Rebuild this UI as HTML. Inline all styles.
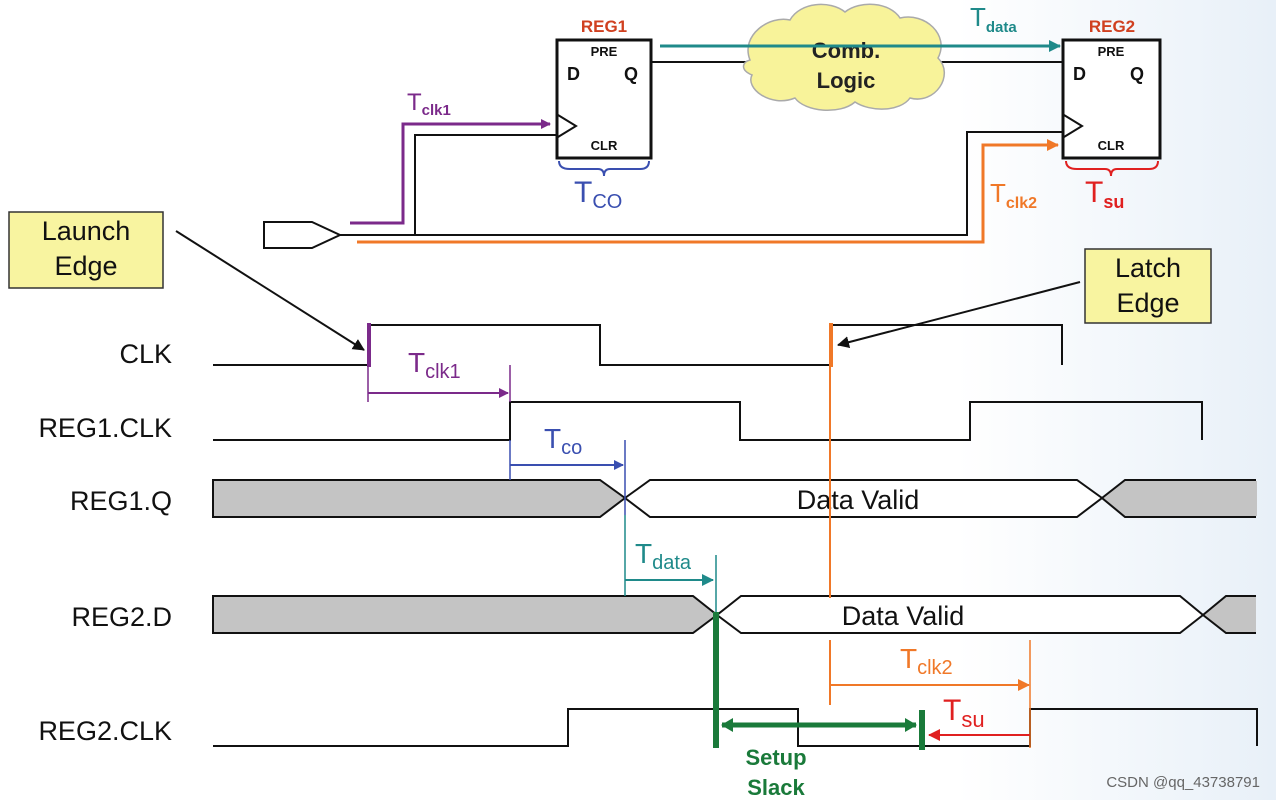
<!DOCTYPE html>
<html><head><meta charset="utf-8"><style>
html,body{margin:0;padding:0;background:#fff;}
svg{display:block;}
text{font-family:"Liberation Sans",Arial,sans-serif;}
</style></head><body>
<svg width="1276" height="800" viewBox="0 0 1276 800" xmlns="http://www.w3.org/2000/svg">
<defs>
<linearGradient id="bg" x1="0" y1="0" x2="1" y2="0">
<stop offset="0.75" stop-color="#ffffff"/><stop offset="1" stop-color="#e8f0f8"/>
</linearGradient>
<marker id="ap" markerWidth="10" markerHeight="10" refX="9" refY="5" orient="auto" markerUnits="userSpaceOnUse"><path d="M0,0 L10,5 L0,10z" fill="#7b2a8a"/></marker>
<marker id="at" markerWidth="12" markerHeight="12" refX="11" refY="6" orient="auto" markerUnits="userSpaceOnUse"><path d="M0,0 L12,6 L0,12z" fill="#1f8a8a"/></marker>
<marker id="ao" markerWidth="12" markerHeight="12" refX="11" refY="6" orient="auto" markerUnits="userSpaceOnUse"><path d="M0,0 L12,6 L0,12z" fill="#f07828"/></marker>
<marker id="ab" markerWidth="10" markerHeight="10" refX="9" refY="5" orient="auto" markerUnits="userSpaceOnUse"><path d="M0,0 L10,5 L0,10z" fill="#3a4fb0"/></marker>
<marker id="ar" markerWidth="12" markerHeight="12" refX="11" refY="6" orient="auto" markerUnits="userSpaceOnUse"><path d="M0,0 L12,6 L0,12z" fill="#e02020"/></marker>
<marker id="ag" markerWidth="12" markerHeight="14" refX="11" refY="7" orient="auto" markerUnits="userSpaceOnUse"><path d="M0,0 L12,7 L0,14z" fill="#1a7a3a"/></marker>
<marker id="agr" markerWidth="12" markerHeight="14" refX="1" refY="7" orient="auto" markerUnits="userSpaceOnUse"><path d="M12,0 L0,7 L12,14z" fill="#1a7a3a"/></marker>
<marker id="ak" markerWidth="12" markerHeight="12" refX="11" refY="6" orient="auto" markerUnits="userSpaceOnUse"><path d="M0,0 L12,6 L0,12z" fill="#111"/></marker>
</defs>
<rect width="1276" height="800" fill="url(#bg)"/>

<!-- circuit -->
<g fill="none" stroke="#111" stroke-width="2">
<path d="M651,62 H765 M930,62 H1063"/>
<path d="M340,235 H967 V132 H1063"/>
<path d="M415,235 V135 H557"/>
</g>
<path d="M750,60 C740,35 770,15 790,20 C800,2 830,0 845,12 C860,0 890,2 900,18 C925,12 950,35 938,58 C955,75 935,105 910,98 C900,112 870,112 855,102 C840,115 805,112 795,98 C770,108 745,88 752,75 C740,70 742,62 750,60Z" fill="#f8f39a" stroke="#aaa" stroke-width="1.5"/>
<text x="846" y="58" font-size="22" font-weight="bold" text-anchor="middle" fill="#222">Comb.</text>
<text x="846" y="88" font-size="22" font-weight="bold" text-anchor="middle" fill="#222">Logic</text>
<path d="M660,46 H1060" stroke="#1f8a8a" stroke-width="3" marker-end="url(#at)" fill="none"/>
<path d="M350,223 H403 V124 H550" stroke="#7b2a8a" stroke-width="3" fill="none" marker-end="url(#ap)"/>
<path d="M357,242 H983 V145 H1058" stroke="#f07828" stroke-width="3" fill="none" marker-end="url(#ao)"/>
<path d="M264,222 H312 L340,235 L312,248 H264Z" fill="#fff" stroke="#111" stroke-width="2"/>

<g stroke="#111" stroke-width="3" fill="#fff">
<rect x="557" y="40" width="94" height="118"/>
<rect x="1063" y="40" width="97" height="118"/>
</g>
<g fill="none" stroke="#111" stroke-width="2">
<path d="M558,115 L576,126 L558,137"/>
<path d="M1064,115 L1082,126 L1064,137"/>
</g>
<g fill="#111">
<text x="604" y="56" font-size="13" font-weight="bold" text-anchor="middle">PRE</text>
<text x="567" y="80" font-size="18" font-weight="bold">D</text>
<text x="624" y="80" font-size="18" font-weight="bold">Q</text>
<text x="604" y="150" font-size="13" font-weight="bold" text-anchor="middle">CLR</text>
<text x="1111" y="56" font-size="13" font-weight="bold" text-anchor="middle">PRE</text>
<text x="1073" y="80" font-size="18" font-weight="bold">D</text>
<text x="1130" y="80" font-size="18" font-weight="bold">Q</text>
<text x="1111" y="150" font-size="13" font-weight="bold" text-anchor="middle">CLR</text>
</g>
<text x="604" y="32" font-size="17" font-weight="bold" fill="#d04020" text-anchor="middle">REG1</text>
<text x="1112" y="32" font-size="17" font-weight="bold" fill="#d04020" text-anchor="middle">REG2</text>
<text x="970" y="26" font-size="26" fill="#1f8a8a">T<tspan font-size="15" font-weight="bold" dy="6">data</tspan></text>
<text x="407" y="110" font-size="24" fill="#7b2a8a">T<tspan font-size="15" font-weight="bold" dy="5">clk1</tspan></text>
<path d="M559,161 Q559,169 570,169 H598 Q604,169 604,176 Q604,169 610,169 H640 Q649,169 649,161" fill="none" stroke="#3a4fb0" stroke-width="2"/>
<text x="574" y="202" font-size="30" fill="#3a4fb0">T<tspan font-size="20" dy="6">CO</tspan></text>
<path d="M1066,161 Q1066,169 1077,169 H1105 Q1111,169 1111,176 Q1111,169 1117,169 H1149 Q1158,169 1158,161" fill="none" stroke="#e02020" stroke-width="2"/>
<text x="1085" y="202" font-size="30" fill="#e02020">T<tspan font-size="18" font-weight="bold" dy="6">su</tspan></text>
<text x="990" y="202" font-size="26" fill="#f07828">T<tspan font-size="16" font-weight="bold" dy="6">clk2</tspan></text>

<!-- callouts -->
<rect x="9" y="212" width="154" height="76" fill="#f8f4a0" stroke="#333" stroke-width="1.5"/>
<text x="86" y="240" font-size="27" text-anchor="middle" fill="#111">Launch</text>
<text x="86" y="275" font-size="27" text-anchor="middle" fill="#111">Edge</text>
<rect x="1085" y="249" width="126" height="74" fill="#f8f4a0" stroke="#333" stroke-width="1.5"/>
<text x="1148" y="277" font-size="27" text-anchor="middle" fill="#111">Latch</text>
<text x="1148" y="312" font-size="27" text-anchor="middle" fill="#111">Edge</text>
<path d="M176,231 L364,350" stroke="#111" stroke-width="2" marker-end="url(#ak)"/>
<path d="M1080,282 L838,345" stroke="#111" stroke-width="2" marker-end="url(#ak)"/>

<!-- signal labels -->
<g font-size="27" fill="#111" text-anchor="end">
<text x="172" y="363">CLK</text>
<text x="172" y="437">REG1.CLK</text>
<text x="172" y="510">REG1.Q</text>
<text x="172" y="626">REG2.D</text>
<text x="172" y="740">REG2.CLK</text>
</g>

<!-- waveforms -->
<g fill="none" stroke="#111" stroke-width="2">
<path d="M213,365 H368 V325 H600 V365 H830 V325 H1062 V365"/>
<path d="M213,440 H510 V402 H740 V440 H970 V402 H1202 V440"/>
<path d="M213,746 H568 V709 H798 V746 H1030 V709 H1257 V746"/>
</g>
<path d="M213,480 H600 L625,498 L600,517 H213Z" fill="#c4c4c4" stroke="#111" stroke-width="2"/>
<path d="M650,480 H1077 L1102,498 L1077,517 H650 L625,498Z" fill="#fff" stroke="#111" stroke-width="2"/>
<path d="M1256,480 H1125 L1102,498 L1125,517 H1256" fill="#c4c4c4" stroke="#111" stroke-width="2"/>
<rect x="1254" y="481" width="3" height="35" fill="#c4c4c4"/>
<text x="858" y="509" font-size="27" text-anchor="middle" fill="#111">Data Valid</text>
<path d="M213,596 H693 L717,615 L693,633 H213Z" fill="#c4c4c4" stroke="#111" stroke-width="2"/>
<path d="M741,596 H1180 L1203,615 L1180,633 H741 L717,615Z" fill="#fff" stroke="#111" stroke-width="2"/>
<path d="M1256,596 H1226 L1203,615 L1226,633 H1256" fill="#c4c4c4" stroke="#111" stroke-width="2"/>
<text x="903" y="625" font-size="27" text-anchor="middle" fill="#111">Data Valid</text>

<!-- edges -->
<path d="M369,323 V367" stroke="#7b2a8a" stroke-width="4"/>
<path d="M831,323 V367" stroke="#f07828" stroke-width="4"/>
<path d="M830,345 V598 M830,640 V705" stroke="#f07828" stroke-width="2"/>

<!-- Tclk1 -->
<path d="M368,365 V402 M510,365 V402" stroke="#7b2a8a" stroke-width="1.5"/>
<path d="M368,393 H508" stroke="#7b2a8a" stroke-width="2" marker-end="url(#ap)"/>
<text x="408" y="372" font-size="28" fill="#7b2a8a">T<tspan font-size="20" dy="6">clk1</tspan></text>
<!-- Tco -->
<path d="M510,440 V480 M625,440 V515" stroke="#3a4fb0" stroke-width="1.5"/>
<path d="M510,465 H623" stroke="#3a4fb0" stroke-width="2" marker-end="url(#ab)"/>
<text x="544" y="448" font-size="28" fill="#3a4fb0">T<tspan font-size="20" dy="6">co</tspan></text>
<!-- Tdata -->
<path d="M625,515 V596 M716,555 V615" stroke="#1f8a8a" stroke-width="1.5"/>
<path d="M625,580 H713" stroke="#1f8a8a" stroke-width="2" marker-end="url(#at)"/>
<text x="635" y="563" font-size="28" fill="#1f8a8a">T<tspan font-size="20" dy="6">data</tspan></text>
<!-- Tclk2 -->
<path d="M1030,640 V748" stroke="#f07828" stroke-width="1.5"/>
<path d="M830,685 H1029" stroke="#f07828" stroke-width="2" marker-end="url(#ao)"/>
<text x="900" y="668" font-size="28" fill="#f07828">T<tspan font-size="20" dy="6">clk2</tspan></text>
<!-- Tsu -->
<path d="M1030,735 H929" stroke="#e02020" stroke-width="2" marker-end="url(#ar)"/>
<text x="943" y="720" font-size="30" fill="#e02020">T<tspan font-size="22" dy="7">su</tspan></text>
<!-- setup slack -->
<path d="M716,612 V748" stroke="#1a7a3a" stroke-width="6"/>
<path d="M922,710 V750" stroke="#1a7a3a" stroke-width="6"/>
<path d="M722,725 H916" stroke="#1a7a3a" stroke-width="5" marker-end="url(#ag)" marker-start="url(#agr)"/>
<text x="776" y="765" font-size="22" font-weight="bold" fill="#1a7a3a" text-anchor="middle">Setup</text>
<text x="776" y="795" font-size="22" font-weight="bold" fill="#1a7a3a" text-anchor="middle">Slack</text>

<text x="1260" y="787" font-size="15" fill="#666" text-anchor="end">CSDN @qq_43738791</text>
</svg>
</body></html>
